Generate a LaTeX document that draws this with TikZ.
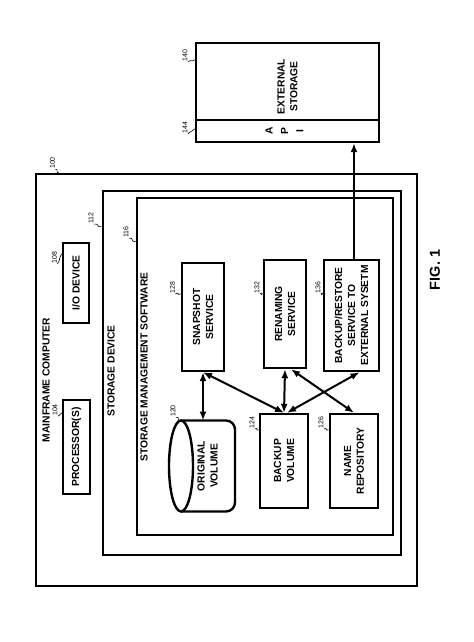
\documentclass[tikz,border=0pt]{standalone}
\usepackage{fontspec}
\newfontfamily\arial{Liberation Sans}
\usetikzlibrary{arrows.meta,calc}
\newcommand\myleader[2]{\draw[leader] (#1) .. controls ($(#1)!0.5!(#2)+(2.2,-2.2)$) and ($(#1)!0.5!(#2)+(-2.2,2.2)$) .. (#2);}
\begin{document}
\begin{tikzpicture}[x=1bp,y=-1bp,
  lbl/.style={font=\arial\bfseries\fontsize{10.3}{13}\selectfont, align=center, rotate=90, inner sep=0pt},
  box/.style={draw, line width=2.4bp, lbl},
  frame/.style={draw, line width=2.6bp, inner sep=0pt},
  num/.style={font=\arial\fontsize{7}{8}\selectfont, rotate=90, inner sep=0.3pt},
  leader/.style={line width=0.6bp},
  link/.style={line width=2bp, {Latex[length=9bp,width=7bp]}-{Latex[length=9bp,width=7bp]}},
  oneway/.style={line width=2bp, -{Latex[length=9bp,width=7bp]}},
]
\fill[white] (0,0) rectangle (474,642);
\useasboundingbox (0,0) rectangle (474,642);

% containers
\node[frame, minimum width=381bp, minimum height=412bp] (mf) at (226.5,380) {};
\node[frame, minimum width=298bp, minimum height=364bp] (sd) at (252,373) {};
\node[frame, minimum width=256bp, minimum height=337bp] (sms) at (265,366.5) {};
\node[lbl] (mflbl) at (46,380) {MAINFRAME COMPUTER};
\node[lbl] (sdlbl) at (111,371) {STORAGE DEVICE};
\node[lbl] (smslbl) at (144,367) {STORAGE MANAGEMENT SOFTWARE};

% boxes
\node[box, minimum width=80bp, minimum height=26bp] (io) at (76,283) {I/O DEVICE};
\node[box, minimum width=94bp, minimum height=27bp] (proc) at (76.5,447) {PROCESSOR(S)};
\node[box, minimum width=108bp, minimum height=42bp] (snap) at (203,317) {SNAPSHOT\\SERVICE};
\node[box, minimum width=108bp, minimum height=42bp] (ren) at (285,314) {RENAMING\\SERVICE};
\node[box, minimum width=111bp, minimum height=55bp] (br) at (351.5,315.5) {BACKUP/RESTORE\\SERVICE TO\\EXTERNAL SYSETM};
\node[box, minimum width=94bp, minimum height=48bp] (bv) at (284,461) {BACKUP\\VOLUME};
\node[box, minimum width=94bp, minimum height=48bp] (nr) at (354,461) {NAME\\REPOSITORY};

% external storage
\node[frame, minimum width=183bp, minimum height=77bp] (ext) at (287.5,81.5) {};
\node[box, minimum width=22bp, minimum height=183bp] (api) at (287.5,131) {};
\node[lbl] (apilbl) at (284.5,131) {A\\[2.5bp]P\\[2.5bp]I};
\node[lbl] (extlbl) at (287.5,86.5) {EXTERNAL\\STORAGE};

% cylinder
\coordinate (cyltl) at (181,420.5);
\draw[line width=2.4bp, rounded corners=9bp] (cyltl) -- (235,420.5) -- (235,511.5) -- (181,511.5);
\draw[line width=2.4bp, fill=white] (181,466) ellipse [x radius=12, y radius=45.5];
\node[lbl] (orig) at (207.5,466) {ORIGINAL\\VOLUME};
\coordinate (origtop) at (203,420.5);

% connectors
\draw[link] (snap.west) -- (origtop);
\draw[link] (snap.west) -- (bv.east);
\draw[link] (ren.west) -- (bv.east);
\draw[link] ([xshift=6bp]ren.west) -- (nr.east);
\draw[link] ([xshift=8bp]br.west) -- ([xshift=3bp]bv.east);
\coordinate (brtop) at ([xshift=2.5bp]br.east);
\draw[oneway] (brtop) -- (brtop |- api.west);

% figure label
\node[font=\arial\bfseries\fontsize{14.5}{16}\selectfont, rotate=90, inner sep=0pt] (fig) at (435,270) {FIG. 1};

% reference numerals
\node[num] (n100) at (52.5,163) {100};
\node[num] (n112) at (91,218) {112};
\node[num] (n116) at (126,232) {116};
\node[num] (n108) at (54.5,257.5) {108};
\node[num] (n104) at (55,410) {104};
\node[num] (n128) at (172.5,287.5) {128};
\node[num] (n132) at (257,287.5) {132};
\node[num] (n136) at (318,287.5) {136};
\node[num] (n120) at (173,411) {120};
\node[num] (n124) at (252,422.5) {124};
\node[num] (n126) at (321,422.5) {126};
\node[num] (n140) at (185,55.5) {140};
\node[num] (n144) at (185,127.5) {144};

\coordinate (l100) at ([xshift=24bp]mf.north west);
\coordinate (l112) at ([yshift=-37bp]sd.north west);
\coordinate (l116) at ([yshift=-45bp]sms.north west);
\coordinate (l108) at ([yshift=-12bp]io.north east);
\coordinate (l104) at ([yshift=-14bp]proc.north east);
\coordinate (l128) at ([yshift=-32bp]snap.north east);
\coordinate (l132) at ([yshift=-35bp]ren.north east);
\coordinate (l136) at ([yshift=-35bp]br.north east);
\coordinate (l124) at ([yshift=-17bp]bv.north east);
\coordinate (l126) at ([yshift=-17bp]nr.north east);
\coordinate (l140) at ([yshift=-18bp]ext.north west);
\coordinate (l144) at ([yshift=-10bp]api.north east);

\myleader{n100.south west}{l100}
\myleader{n112.south west}{l112}
\myleader{n116.south west}{l116}
\myleader{n108.south west}{l108}
\myleader{n104.south west}{l104}
\myleader{n128.south west}{l128}
\myleader{n132.south west}{l132}
\myleader{n136.south west}{l136}
\myleader{n120.south west}{cyltl}
\myleader{n124.south west}{l124}
\myleader{n126.south west}{l126}
\myleader{n140.south west}{l140}
\myleader{n144.south west}{l144}
\end{tikzpicture}
\end{document}
